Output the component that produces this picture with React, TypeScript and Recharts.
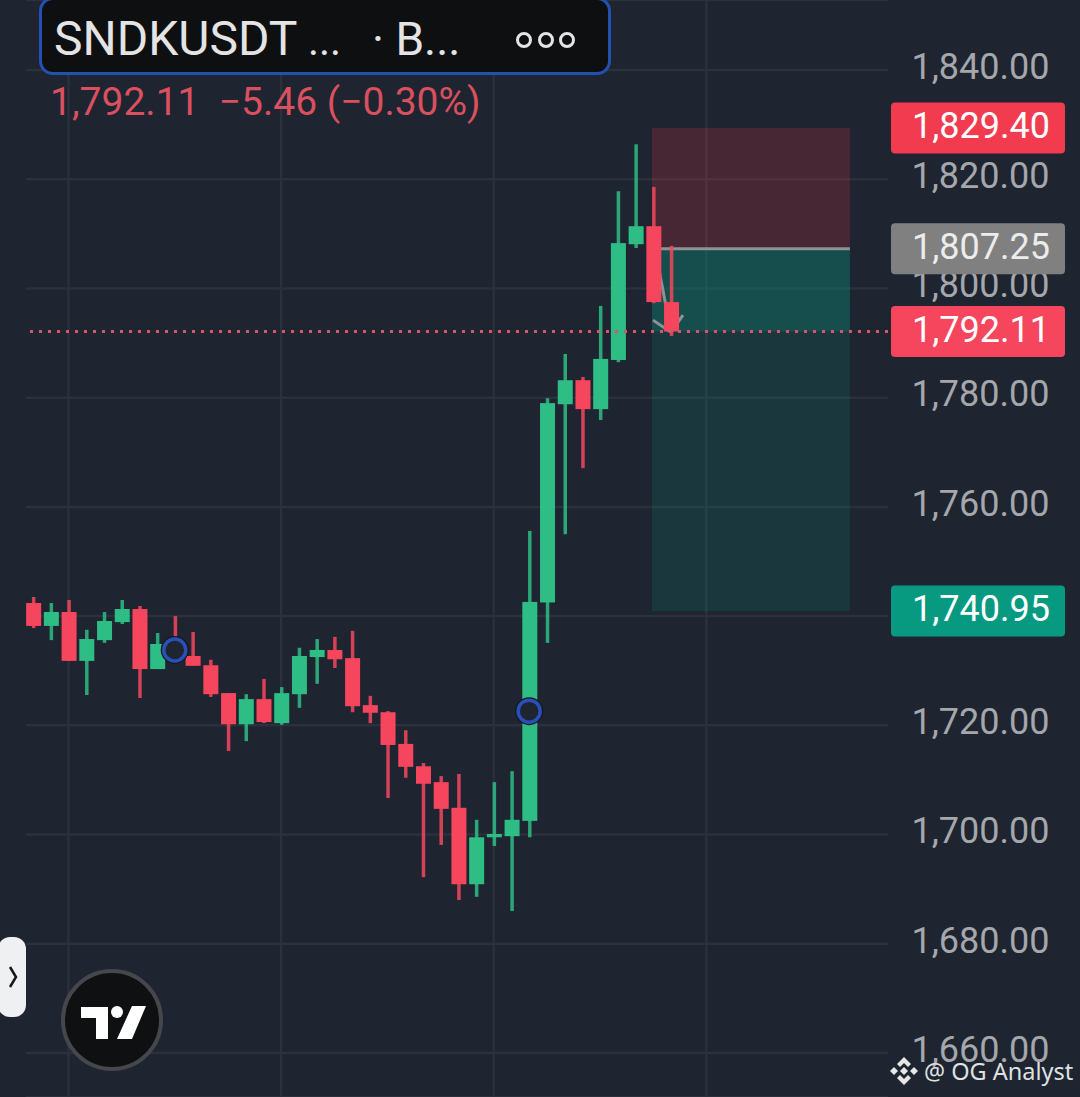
import { ComposedChart, Bar, XAxis, YAxis, CartesianGrid, ReferenceArea, ReferenceDot, ReferenceLine } from 'recharts';

// one candle per slot, oldest first
const opens = [1742.4, 1738.2, 1740.75, 1731.8, 1735.6, 1738.9, 1741.3, 1730.3, 1734.9, 1732.7, 1731, 1725.9, 1720.2, 1724.8, 1720.4, 1725.7, 1732.5, 1733.8, 1732.3, 1723.7, 1722.4, 1716.6, 1712.5, 1709.6, 1704.9, 1690.9, 1699.5, 1699.7, 1702.5, 1742.5, 1778.8, 1783.2, 1777.9, 1786.9, 1808.1, 1811.4, 1797.5];
const closes = [1738.2, 1740.75, 1731.8, 1735.8, 1739.1, 1741.3, 1730.3, 1734.9, 1732.7, 1730.9, 1725.7, 1720.2, 1724.8, 1720.6, 1725.9, 1732.7, 1733.8, 1732.1, 1723.5, 1722.3, 1716.4, 1712.4, 1709.3, 1704.7, 1690.9, 1699.5, 1700.1, 1702.7, 1742.6, 1779, 1783.2, 1777.9, 1787.1, 1808.3, 1811.4, 1797.5, 1792.11];
const highs = [1743.5, 1742.4, 1742.95, 1737.5, 1740.75, 1742.95, 1741.85, 1736.9, 1740, 1737.1, 1732, 1725.9, 1725.7, 1728.5, 1727, 1734.2, 1735.8, 1736.2, 1737.3, 1725.4, 1722.6, 1719.1, 1713.1, 1710.7, 1711.1, 1702.7, 1709.6, 1711.6, 1755.6, 1779.9, 1788, 1783.8, 1796.8, 1817.8, 1826.4, 1818.6, 1807.8];
const lows = [1737.8, 1735.6, 1731.8, 1725.55, 1735.1, 1738.55, 1725, 1730.3, 1732, 1730.9, 1725.2, 1715.3, 1717.1, 1720.4, 1720.1, 1723.2, 1727.6, 1730.5, 1722.4, 1720.4, 1706.7, 1710.4, 1692.2, 1698.1, 1688, 1688.6, 1697.9, 1686, 1699.5, 1735.1, 1755, 1767.1, 1775.9, 1786.5, 1807.4, 1797.3, 1791.3];

const priceTicks = [1660, 1680, 1700, 1720, 1740, 1760, 1780, 1800, 1820, 1840];
const timeTicks = [2, 14, 26, 38];

const STOP = 1829.4;
const ENTRY = 1807.25;
const LAST = 1792.11;
const TARGET = 1740.95;
const markers = [
  { slot: 8, price: 1733.8 },
  { slot: 28, price: 1722.6 },
];
// trade path with its arrow head, in slot / price
const pathLines = [
  [[34.99, 1794.2], [36, 1792]],
  [[36, 1792], [36.68, 1795.1]],
  [[35.2, 1805.6], [36, 1792]],
];

const candles = opens.map((open, slot) => ({
  slot,
  open,
  close: closes[slot],
  range: [lows[slot], highs[slot]],
}));

const UP = '#2ebd85';
const DOWN = '#f6465d';
const BG = '#1e2430';

const fmt = (v: number) => v.toLocaleString('en-US', { minimumFractionDigits: 2, maximumFractionDigits: 2 });
// the 1,740 label sits fully under the target price tag
const tickText = (v: number) => (v === 1740 ? '' : fmt(v));

const Candle = (props: any) => {
  const { y, width, height, payload } = props;
  const x = props.x + 1;
  const [low, high] = payload.range;
  const perUnit = height / (high - low);
  const top = y + (high - Math.max(payload.open, payload.close)) * perUnit;
  const bottom = y + (high - Math.min(payload.open, payload.close)) * perUnit;
  const color = payload.close >= payload.open ? UP : DOWN;
  return (
    <g>
      <rect x={x + width / 2 - 1.75} y={y} width={3.5} height={height} fill={color} opacity={0.85} />
      <rect x={x} y={top} width={width} height={Math.max(bottom - top, 2)} fill={color} />
    </g>
  );
};

const chip = (text: string, fill: string, color = '#fff') => (props: any) => {
  const y = props.viewBox.y;
  return (
    <g>
      <rect x={891} y={y - 25.5} width={174} height={51} rx={4} fill={fill} />
      <text x={981} y={y - 2} textAnchor="middle" dominantBaseline="central" fontFamily="Roboto" fontSize={36} fill={color}>
        {text}
      </text>
    </g>
  );
};

const Ring = (props: any) => (
  <g>
    <circle cx={props.cx} cy={props.cy} r={14} fill="#14181f" />
    <circle cx={props.cx} cy={props.cy} r={11} fill={BG} stroke="#2a4fb8" strokeWidth={3.5} />
  </g>
);

const App = () => {
  return (
    <div style={{ position: 'absolute', left: 0, top: 0, width: 1080, height: 1097, background: BG, overflow: 'hidden' }}>
      <ComposedChart width={1080} height={1097} data={candles} margin={{ top: 0, right: 0, bottom: 0, left: 26 }}>
        <CartesianGrid vertical={false} stroke="#2b303b" strokeWidth={2.5} />
        <XAxis type="number" dataKey="slot" domain={[-0.395, 48.25]} ticks={timeTicks} tick={false} axisLine={false} tickLine={false} height={0} />
        <YAxis
          orientation="right"
          width={192}
          domain={[1651.94, 1852.82]}
          ticks={priceTicks}
          tickFormatter={tickText}
          axisLine={false}
          tickLine={false}
          tickMargin={17.5}
          zIndex={50}
          tick={{ fill: '#a5a7ab', fontSize: 36, fontFamily: 'Roboto', dy: -4 }}
        />
        {timeTicks.map((t) => (
          <ReferenceLine key={t} x={t} stroke="#2b303b" strokeWidth={2.5} zIndex={60} />
        ))}
        <ReferenceArea x1={34.93} x2={46.1} y1={STOP} y2={ENTRY} fill="#f23645" fillOpacity={0.2} stroke="none" />
        <ReferenceArea x1={34.93} x2={46.1} y1={ENTRY} y2={LAST} fill="#089981" fillOpacity={0.36} stroke="none" />
        <ReferenceArea x1={34.93} x2={46.1} y1={LAST} y2={TARGET} fill="#089981" fillOpacity={0.17} stroke="none" />
        <ReferenceLine
          segment={[{ x: 34.93, y: ENTRY }, { x: 46.1, y: ENTRY }]}
          stroke="#8f9295"
          strokeWidth={3}
          zIndex={150}
        />
        {pathLines.map((p, i) => (
          <ReferenceLine
            key={i}
            segment={[{ x: p[0][0], y: p[0][1] }, { x: p[1][0], y: p[1][1] }]}
            stroke="#8f9295"
            strokeWidth={3}
            zIndex={150}
          />
        ))}
        <Bar dataKey="range" barSize={15} shape={Candle} isAnimationActive={false} />
        <ReferenceLine y={LAST} stroke="#d4566a" strokeWidth={3} strokeDasharray="3 6" />
        {markers.map((m) => (
          <ReferenceDot key={m.slot} x={m.slot} y={m.price} r={11} shape={Ring} />
        ))}
        <ReferenceLine y={STOP} stroke="none" zIndex={3000} label={chip(fmt(STOP), '#f23b4f')} />
        <ReferenceLine y={ENTRY} stroke="none" zIndex={3000} label={chip(fmt(ENTRY), '#808080', '#ececec')} />
        <ReferenceLine y={LAST} stroke="none" zIndex={3000} label={chip(fmt(LAST), DOWN)} />
        <ReferenceLine y={TARGET} stroke="none" zIndex={3000} label={chip(fmt(TARGET), '#089981')} />
      </ComposedChart>

      {/* symbol header */}
      <div style={{ position: 'absolute', left: 39, top: -3, width: 572, height: 78, boxSizing: 'border-box', background: '#0e0f11', border: '3px solid #2450b0', borderRadius: 14, color: '#e4e4e4', fontFamily: 'Roboto', fontSize: 48, lineHeight: '78px', whiteSpace: 'pre' }}>
        <span style={{ position: 'absolute', left: 12, top: 0 }}>
          SNDKUSDT<span style={{ fontSize: 42 }}> ...</span>
        </span>
        <span style={{ position: 'absolute', left: 330, top: 0, fontSize: 46 }}>· B...</span>
        <svg style={{ position: 'absolute', left: 469, top: 26 }} width={70} height={30}>
          {[13, 35, 56].map((cx) => (
            <circle key={cx} cx={cx} cy={14} r={6.5} fill="none" stroke="#e4e4e4" strokeWidth={3} />
          ))}
        </svg>
      </div>
      <div style={{ position: 'absolute', left: 50, top: 78, color: '#d9505f', fontFamily: 'Roboto', fontSize: 39, lineHeight: '48px', whiteSpace: 'pre' }}>
        1,792.11  −5.46 (−0.30%)
      </div>

      {/* side handle */}
      <div style={{ position: 'absolute', left: -2, top: 937, width: 28, height: 80, background: '#eef0f2', borderRadius: 12 }} />
      <svg style={{ position: 'absolute', left: 0, top: 930 }} width={180} height={150}>
        <path d="M10 37 L16 47 L10 57" fill="none" stroke="#15181d" strokeWidth={2.5} />
        <circle cx={112} cy={90} r={49} fill="#0f1012" stroke="#45474c" strokeWidth={4} />
        <path d="M81 77 H108 V109 H96 V88 H81 Z M132 76 H146 L132 109 H117 Z" fill="#fff" />
        <circle cx={117} cy={82} r={6} fill="#fff" />
      </svg>

      {/* watermark */}
      <svg style={{ position: 'absolute', left: 890, top: 1056 }} width={30} height={30}>
        <path d="M14 1 L21 8 L18 11 L14 7 L10 11 L7 8 Z M14 29 L21 22 L18 19 L14 23 L10 19 L7 22 Z M14 11 L18 15 L14 19 L10 15 Z M4 11 L8 15 L4 19 L0 15 Z M24 11 L28 15 L24 19 L20 15 Z" fill="#e6e6e6" />
      </svg>
      <div style={{ position: 'absolute', left: 924, top: 1054, color: '#dfe0e2', fontFamily: 'Noto Sans', fontSize: 23.5, lineHeight: '34px', whiteSpace: 'pre' }}>
        @ OG Analyst
      </div>
    </div>
  );
};

export default App;
